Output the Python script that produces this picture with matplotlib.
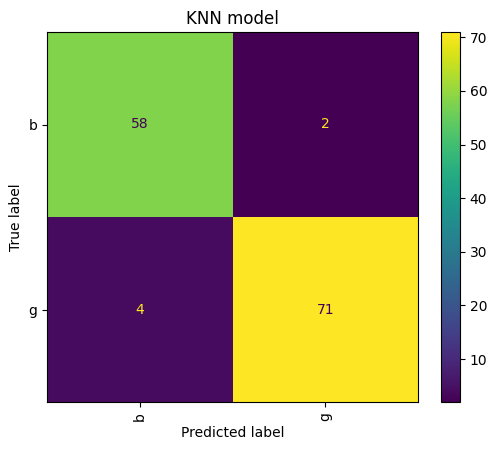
import numpy as np
import matplotlib
matplotlib.use("Agg")
import matplotlib.pyplot as plt

labels = ["b", "g"]
cm = np.array([[58, 2],
               [4, 71]])
title = "KNN model"

W, H = 498, 450
fig = plt.figure(figsize=(W / 100, H / 100), dpi=100)
ax = fig.add_axes([47 / W, (H - 402) / H, 371 / W, 370 / H])
cax = fig.add_axes([441 / W, (H - 402) / H, 19 / W, 370 / H])

cmap = plt.get_cmap("viridis")
im = ax.imshow(cm, interpolation="nearest", cmap=cmap, aspect="auto")
cmap_min, cmap_max = im.cmap(0), im.cmap(1.0)
thresh = (cm.max() + cm.min()) / 2.0
for i in range(cm.shape[0]):
    for j in range(cm.shape[1]):
        color = cmap_max if cm[i, j] < thresh else cmap_min
        ax.text(j, i, format(cm[i, j], "d"), ha="center", va="center", color=color)

fig.colorbar(im, cax=cax)
ax.set_xticks(np.arange(len(labels)))
ax.set_yticks(np.arange(len(labels)))
ax.set_xticklabels(labels, rotation=90)
ax.set_yticklabels(labels)
ax.set_xlabel("Predicted label")
ax.set_ylabel("True label")
ax.set_title(title)
fig.savefig("out.png", dpi=100)
